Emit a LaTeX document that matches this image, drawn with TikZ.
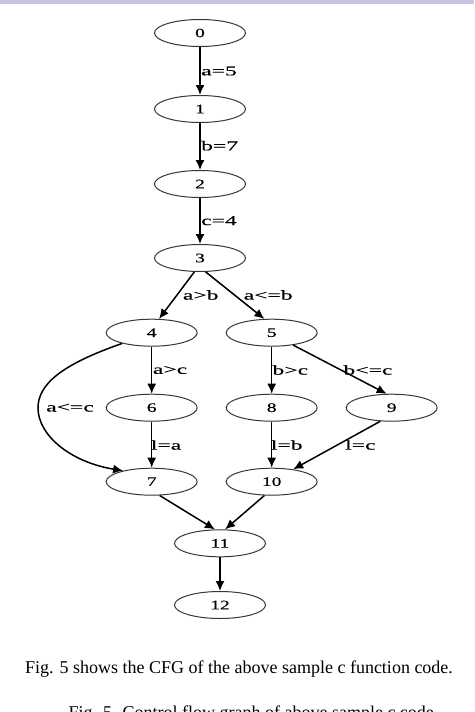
\documentclass[tikz,border=0pt]{standalone}
\usepackage{fontspec}
\setmainfont{Liberation Serif}
\newfontfamily\grfont[FakeStretch=1.5,FakeBold=0.4]{Liberation Serif}
\newfontfamily\edfont[FakeStretch=1.75,FakeBold=0.4]{Liberation Serif}
\newfontfamily\capfont{Liberation Serif}
\usetikzlibrary{arrows.meta,shapes.geometric}
\definecolor{topbar}{RGB}{196,196,224}
\definecolor{ringcol}{RGB}{55,55,55}
\begin{document}
\begin{tikzpicture}[x=1pt,y=-1pt,
  st/.style={ellipse,draw=ringcol,line width=1pt,minimum width=91pt,minimum height=27pt,inner sep=0pt,font=\grfont\fontsize{13}{13}\selectfont},
  ed/.style={draw=black,line width=1.5pt,-{Latex[length=10pt,width=9pt]}},
  lbl/.style={anchor=west,inner sep=0pt,font=\edfont\fontsize{13.5}{13.5}\selectfont},
  captxt/.style={anchor=base,inner sep=0pt,font=\capfont\fontsize{18}{18}\selectfont}]
\useasboundingbox (0,0) rectangle (474,712);
\clip (0,0) rectangle (474,712);
\fill[white] (0,0) rectangle (474,712);
\fill[topbar] (0,0) rectangle (474,4);
% nodes
\node[st] (n0) at (200,33) {0};
\node[st] (n1) at (200,109) {1};
\node[st] (n2) at (200,184) {2};
\node[st] (n3) at (200,258) {3};
\node[st] (n4) at (151.7,332.7) {4};
\node[st] (n5) at (271.7,332.7) {5};
\node[st] (n6) at (151.7,407.7) {6};
\node[st] (n8) at (271.7,407.7) {8};
\node[st] (n9) at (391.7,407.7) {9};
\node[st] (n7) at (151.7,481.7) {7};
\node[st] (n10) at (271.7,481.7) {10};
\node[st] (n11) at (220,543.3) {11};
\node[st] (n12) at (220,605) {12};
% edges
\draw[ed] (n0) -- (n1);
\draw[ed] (n1) -- (n2);
\draw[ed] (n2) -- (n3);
\draw[ed] (n3.-112) -- (n4.62);
\draw[ed] (n3.-68) -- (n5.118);
\draw[ed] (n4) -- (n6);
\draw[ed] (n5) -- (n8);
\draw[ed] (n5.-30) -- (n9.110);
\draw[ed] (n6) -- (n7);
\draw[ed] (n8) -- (n10);
\draw[ed] (n9.-130) -- (n10.30);
\draw[ed] (n4.200) .. controls (60,365) and (38,385) .. (38,408) .. controls (38,435) and (70,462) .. (n7.159);
\draw[ed] (n7.-60) -- (n11.110);
\draw[ed] (n10.-118) -- (n11.70);
\draw[ed] (n11) -- (n12);
% edge labels
\node[lbl] (l01) at (201,71) {a=5};
\node[lbl] (l12) at (201,145.7) {b=7};
\node[lbl] (l23) at (201,220.7) {c=4};
\node[lbl] (l34) at (182.7,295) {a>b};
\node[lbl] (l35) at (243.5,295) {a<=b};
\node[lbl] (l46) at (152.7,370) {a>c};
\node[lbl] (l58) at (272.3,370) {b>c};
\node[lbl] (l59) at (343.3,370) {b<=c};
\node[lbl] (l47) at (46,407.7) {a<=c};
\node[lbl] (l67) at (150.7,445) {l=a};
\node[lbl] (l810) at (270.7,445) {l=b};
\node[lbl] (l910) at (345,445) {l=c};
% caption
\node[captxt] (cap1) at (239,673.5) {Fig. 5 shows the CFG of the above sample c function code.};
\node[captxt] (cap2) at (253.5,718) {Fig. 5. Control flow graph of above sample c code.};
\end{tikzpicture}
\end{document}
